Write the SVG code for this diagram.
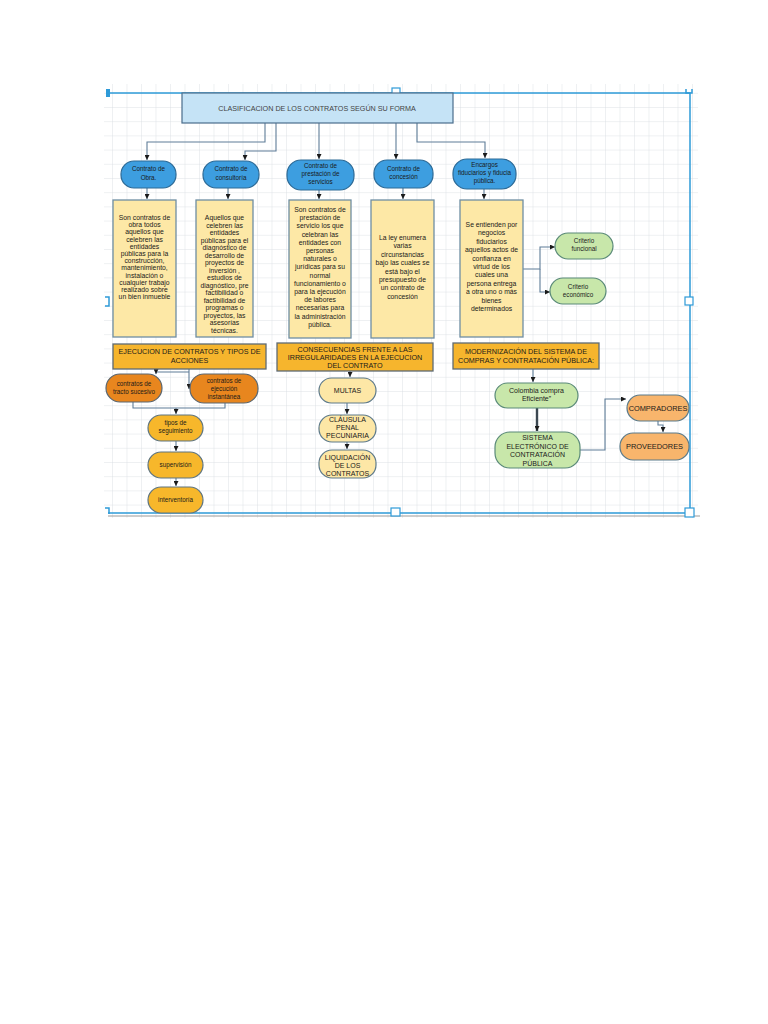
<svg xmlns="http://www.w3.org/2000/svg" width="768" height="1024" viewBox="0 0 768 1024">
<defs>
<pattern id="grid" patternUnits="userSpaceOnUse" x="112" y="107" width="14.5" height="14.2">
<path d="M0,0 H14.5 M0,0 V14.2" fill="none" stroke="#d6dbe0" stroke-width="0.8"/>
</pattern>
<marker id="arr" markerUnits="userSpaceOnUse" markerWidth="5" markerHeight="5" refX="5" refY="2.5" orient="auto">
<path d="M0,0 L5,2.5 L0,5 z" fill="#1a1a1a"/>
</marker>
</defs>
<style>
text{font-family:"Liberation Sans",Arial,sans-serif;fill:#1a1a1a;stroke:none;text-anchor:middle}
.t{font-size:7.2px;fill:#444}
.bp rect{fill:#3d9ee0;stroke:#2d6a96;stroke-width:1.2}
.yb rect{fill:#fde8a6;stroke:#6f8ea3;stroke-width:1.3}
.hd rect{fill:#f6b52d;stroke:#5f6b74;stroke-width:1.3}
.op rect{fill:#e8861e;stroke:#5a6670;stroke-width:1.2}
.yp rect{fill:#f7b72b;stroke:#5f7580;stroke-width:1.2}
.cp rect{fill:#fde7a6;stroke:#5e7a8a;stroke-width:1.2}
.gp rect{fill:#c8e7aa;stroke:#5a8a78;stroke-width:1.2}
.pp rect{fill:#f8b56c;stroke:#5a7a8a;stroke-width:1.2}
.s{font-size:6.3px}
.m{font-size:6.8px}
.h{font-size:7.2px}
.u{font-size:7px}
.k{font-size:7.4px}
.c{fill:none;stroke:#5f7d98;stroke-width:1.1}
.f{fill:none;stroke:#2e9ad8;stroke-width:1.5}
.hn{fill:#fff;stroke:#2e9ad8;stroke-width:1.2}
</style>
<rect width="768" height="1024" fill="#fff"/>
<rect x="104" y="84" width="594" height="434" fill="url(#grid)"/>

<g id="frame">
<path class="f" d="M108,93 H690 V513 H108"/>
<path d="M108,516 H700" stroke="#9a9a9a" stroke-width="1" fill="none"/>
<rect x="106" y="89" width="4" height="8" fill="#2e9ad8"/>
<rect class="hn" x="392" y="88" width="8" height="7"/>
<path class="f" d="M686,89 V93 H692 V89"/>
<rect class="hn" x="685" y="297" width="8" height="8"/>
<rect class="hn" x="685" y="508" width="9" height="9"/>
<rect class="hn" x="391" y="508" width="9" height="8"/>
<path class="f" d="M105,297 H109 V306 H105"/>
<path class="f" d="M105,508 H109 V514"/>
</g>

<g id="connectors">
<path class="c" d="M265,123 V142 H147 V160" marker-end="url(#arr)"/>
<path class="c" d="M276,123 V151 H245 V160" marker-end="url(#arr)"/>
<path class="c" d="M319,123 V159" marker-end="url(#arr)"/>
<path class="c" d="M396,123 V159" marker-end="url(#arr)"/>
<path class="c" d="M417,123 V142 H485 V158" marker-end="url(#arr)"/>
<path class="c" d="M147,188 V199" marker-end="url(#arr)"/>
<path class="c" d="M228,188 V199" marker-end="url(#arr)"/>
<path class="c" d="M319,190 V199" marker-end="url(#arr)"/>
<path class="c" d="M403,188 V199" marker-end="url(#arr)"/>
<path class="c" d="M484,189 V199" marker-end="url(#arr)"/>
<path class="c" d="M523,269 H540 V247 H555" marker-end="url(#arr)"/>
<path class="c" d="M540,269 V292 H550" marker-end="url(#arr)"/>
<path class="c" d="M189,369 V389" marker-end="url(#arr)"/>
<path class="c" d="M189,372 H156 V374" marker-end="url(#arr)"/>
<path class="c" d="M133,402 V408 H225 V403"/>
<path class="c" d="M176,408 V414" marker-end="url(#arr)"/>
<path class="c" d="M176,441 V451" marker-end="url(#arr)"/>
<path class="c" d="M176,478 V486" marker-end="url(#arr)"/>
<path class="c" d="M350,371 V377" marker-end="url(#arr)"/>
<path class="c" d="M347,403 V414" marker-end="url(#arr)"/>
<path class="c" d="M347,442 V449" marker-end="url(#arr)"/>
<path class="c" d="M533,369 V382" marker-end="url(#arr)"/>
<path d="M537,408 V431" fill="none" stroke="#3a4650" stroke-width="2.4" marker-end="url(#arr)"/>
<path class="c" d="M580,450 H605 V399 H626" marker-end="url(#arr)"/>
<path class="c" d="M658,421 V425 H663 V432" marker-end="url(#arr)"/>
</g>

<g id="title">
<rect x="182" y="93" width="271" height="30" fill="#c5e3f6" stroke="#4a6d8c" stroke-width="1.2"/>
<text class="t" x="317" y="111">CLASIFICACION DE LOS CONTRATOS SEGÚN SU FORMA</text>
</g>

<g id="n-obra" class="bp"><rect x="121" y="161" width="55" height="27" rx="13"/>
<text class="s" x="148.5" y="171">Contrato de</text><text class="s" x="148.5" y="180">Obra.</text></g>
<g id="n-consultoria" class="bp"><rect x="203" y="161" width="56" height="27" rx="13"/>
<text class="s" x="231" y="171">Contrato de</text><text class="s" x="231" y="180">consultoría</text></g>
<g id="n-prestacion" class="bp"><rect x="287" y="160" width="67" height="30" rx="14"/>
<text class="s" x="320.5" y="168">Contrato de</text><text class="s" x="320.5" y="176">prestación de</text><text class="s" x="320.5" y="184">servicios</text></g>
<g id="n-concesion" class="bp"><rect x="374" y="160" width="59" height="28" rx="13"/>
<text class="s" x="403.5" y="171">Contrato de</text><text class="s" x="403.5" y="179">concesión</text></g>
<g id="n-encargos" class="bp"><rect x="453" y="159" width="63" height="30" rx="14"/>
<text class="s" x="484.5" y="167">Encargos</text><text class="s" x="484.5" y="175">fiduciarios y fiducia</text><text class="s" x="484.5" y="183">pública.</text></g>

<g id="d-obra" class="yb"><rect x="113" y="200" width="63" height="137"/>
<text class="m"><tspan x="144.5" y="220">Son contratos de</tspan><tspan x="144.5" y="227.2">obra todos</tspan><tspan x="144.5" y="234.4">aquellos que</tspan><tspan x="144.5" y="241.6">celebren las</tspan><tspan x="144.5" y="248.8">entidades</tspan><tspan x="144.5" y="256">públicas para la</tspan><tspan x="144.5" y="263.2">construcción,</tspan><tspan x="144.5" y="270.4">mantenimiento,</tspan><tspan x="144.5" y="277.6">instalación o</tspan><tspan x="144.5" y="284.8">cualquier trabajo</tspan><tspan x="144.5" y="292">realizado sobre</tspan><tspan x="144.5" y="299.2">un bien inmueble</tspan></text></g>

<g id="d-consultoria" class="yb"><rect x="196" y="200" width="57" height="137"/>
<text class="m"><tspan x="224.5" y="220">Aquellos que</tspan><tspan x="224.5" y="227.5">celebren las</tspan><tspan x="224.5" y="235">entidades</tspan><tspan x="224.5" y="242.5">públicas para el</tspan><tspan x="224.5" y="250">diagnóstico de</tspan><tspan x="224.5" y="257.5">desarrollo de</tspan><tspan x="224.5" y="265">proyectos de</tspan><tspan x="224.5" y="272.5">inversión ,</tspan><tspan x="224.5" y="280">estudios de</tspan><tspan x="224.5" y="287.5">diagnóstico, pre</tspan><tspan x="224.5" y="295">factibilidad o</tspan><tspan x="224.5" y="302.5">factibilidad de</tspan><tspan x="224.5" y="310">programas o</tspan><tspan x="224.5" y="317.5">proyectos, las</tspan><tspan x="224.5" y="325">asesorías</tspan><tspan x="224.5" y="332.5">técnicas.</tspan></text></g>

<g id="d-prestacion" class="yb"><rect x="289" y="200" width="62" height="138"/>
<text class="m"><tspan x="320" y="212">Son contratos de</tspan><tspan x="320" y="220.2">prestación de</tspan><tspan x="320" y="228.4">servicio los que</tspan><tspan x="320" y="236.6">celebran las</tspan><tspan x="320" y="244.8">entidades con</tspan><tspan x="320" y="253">personas</tspan><tspan x="320" y="261.2">naturales o</tspan><tspan x="320" y="269.4">jurídicas para su</tspan><tspan x="320" y="277.6">normal</tspan><tspan x="320" y="285.8">funcionamiento o</tspan><tspan x="320" y="294">para la ejecución</tspan><tspan x="320" y="302.2">de labores</tspan><tspan x="320" y="310.4">necesarias para</tspan><tspan x="320" y="318.6">la administración</tspan><tspan x="320" y="326.8">pública.</tspan></text></g>

<g id="d-concesion" class="yb"><rect x="371" y="200" width="63" height="138"/>
<text class="m"><tspan x="402.5" y="240">La ley enumera</tspan><tspan x="402.5" y="248.4">varias</tspan><tspan x="402.5" y="256.8">circunstancias</tspan><tspan x="402.5" y="265.2">bajo las cuales se</tspan><tspan x="402.5" y="273.6">está bajo el</tspan><tspan x="402.5" y="282">presupuesto de</tspan><tspan x="402.5" y="290.4">un contrato de</tspan><tspan x="402.5" y="298.8">concesión</tspan></text></g>

<g id="d-encargos" class="yb"><rect x="460" y="200" width="63" height="137"/>
<text class="m"><tspan x="491.5" y="227">Se entienden por</tspan><tspan x="491.5" y="235.4">negocios</tspan><tspan x="491.5" y="243.8">fiduciarios</tspan><tspan x="491.5" y="252.2">aquellos actos de</tspan><tspan x="491.5" y="260.6">confianza en</tspan><tspan x="491.5" y="269">virtud de los</tspan><tspan x="491.5" y="277.4">cuales una</tspan><tspan x="491.5" y="285.8">persona entrega</tspan><tspan x="491.5" y="294.2">a otra uno o más</tspan><tspan x="491.5" y="302.6">bienes</tspan><tspan x="491.5" y="311">determinados</tspan></text></g>

<g id="n-funcional" class="gp"><rect x="555" y="233" width="58" height="26" rx="13"/>
<text class="s" x="584" y="243">Criterio</text><text class="s" x="584" y="251">funcional</text></g>
<g id="n-economico" class="gp"><rect x="550" y="278" width="56" height="26" rx="13"/>
<text class="s" x="578" y="289">Criterio</text><text class="s" x="578" y="297">económico</text></g>

<g id="h-ejecucion" class="hd"><rect x="113" y="344" width="153" height="25"/>
<text class="h" x="189.5" y="354">EJECUCION DE CONTRATOS Y TIPOS DE</text><text class="h" x="189.5" y="363">ACCIONES</text></g>
<g id="n-tracto" class="op"><rect x="106" y="374" width="56" height="28" rx="14"/>
<text class="s" x="134" y="386">contratos de</text><text class="s" x="134" y="394">tracto sucesivo</text></g>
<g id="n-instantanea" class="op"><rect x="190" y="374" width="68" height="29" rx="14"/>
<text class="s" x="224" y="383">contratos de</text><text class="s" x="224" y="391">ejecución</text><text class="s" x="224" y="399">instantánea</text></g>
<g id="n-tipos" class="yp"><rect x="148" y="415" width="55" height="26" rx="13"/>
<text class="s" x="175.5" y="425">tipos de</text><text class="s" x="175.5" y="433">seguimiento</text></g>
<g id="n-supervision" class="yp"><rect x="148" y="452" width="55" height="26" rx="13"/>
<text class="s" x="175.5" y="467">supervisión</text></g>
<g id="n-interventoria" class="yp"><rect x="148" y="487" width="55" height="26" rx="13"/>
<text class="s" x="175.5" y="502">interventoría</text></g>

<g id="h-consecuencias" class="hd"><rect x="277" y="343" width="156" height="28"/>
<text class="h" x="355" y="352">CONSECUENCIAS FRENTE A LAS</text><text class="h" x="355" y="360">IRREGULARIDADES EN LA EJECUCION</text><text class="h" x="355" y="368">DEL CONTRATO</text></g>
<g id="n-multas" class="cp"><rect x="319" y="378" width="57" height="25" rx="12.5"/>
<text class="u" x="347.5" y="393">MULTAS</text></g>
<g id="n-clausula" class="cp"><rect x="319" y="415" width="57" height="27" rx="13"/>
<text class="u" x="347.5" y="422">CLÁUSULA</text><text class="u" x="347.5" y="430">PENAL</text><text class="u" x="347.5" y="438">PECUNIARIA</text></g>
<g id="n-liquidacion" class="cp"><rect x="319" y="450" width="57" height="28" rx="13"/>
<text class="u" x="347.5" y="460">LIQUIDACIÓN</text><text class="u" x="347.5" y="468">DE LOS</text><text class="u" x="347.5" y="476">CONTRATOS</text></g>

<g id="h-modernizacion" class="hd"><rect x="453" y="343" width="146" height="26"/>
<text class="h" x="526" y="354">MODERNIZACIÓN DEL SISTEMA DE</text><text class="h" x="526" y="363">COMPRAS Y CONTRATACIÓN PÚBLICA:</text></g>
<g id="n-colombia" class="gp"><rect x="495" y="383" width="83" height="25" rx="12.5"/>
<text class="u" x="536.5" y="393">Colombia compra</text><text class="u" x="536.5" y="401">Eficiente”</text></g>
<g id="n-sistema" class="gp"><rect x="495" y="432" width="85" height="36" rx="15"/>
<text class="u" x="537.5" y="440">SISTEMA</text><text class="u" x="537.5" y="448.5">ELECTRÓNICO DE</text><text class="u" x="537.5" y="457">CONTRATACIÓN</text><text class="u" x="537.5" y="465.5">PÚBLICA</text></g>
<g id="n-compradores" class="pp"><rect x="627" y="395" width="62" height="26" rx="13"/>
<text class="k" x="658" y="410.5">COMPRADORES</text></g>
<g id="n-proveedores" class="pp"><rect x="620" y="433" width="69" height="27" rx="13"/>
<text class="k" x="654.5" y="449">PROVEEDORES</text></g>
</svg>
